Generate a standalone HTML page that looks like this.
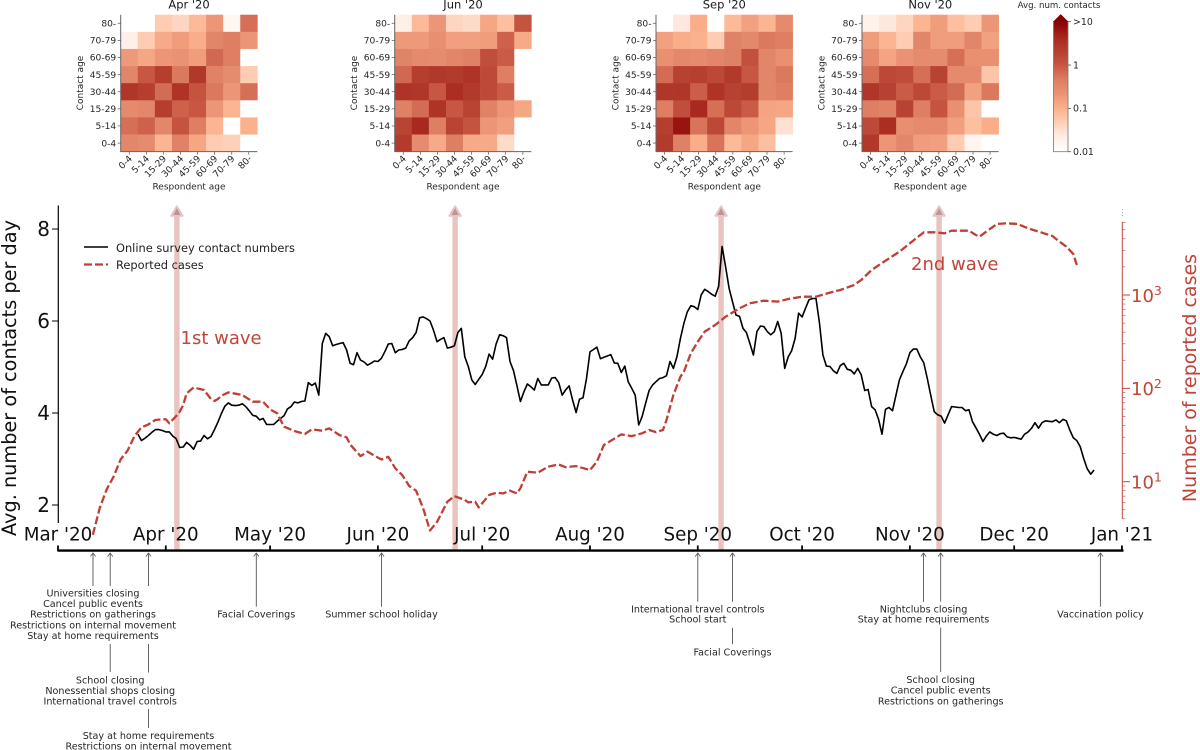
<!DOCTYPE html>
<html lang="en">
<head>
<meta charset="utf-8">
<title>Contacts and reported cases, 2020</title>
<style>
html,body{margin:0;padding:0;background:#fff;}
svg{display:block;font-family:"DejaVu Sans","Liberation Sans",sans-serif;}
.ann{font-size:9.6px;fill:#262626;text-anchor:middle;}
.ann-line{stroke:#555;stroke-width:.9;fill:none;}
.hm-tick{font-size:9.1px;fill:#262626;}
.hm-title{font-size:11.5px;fill:#1a1a1a;text-anchor:middle;}
.hm-label{font-size:9px;fill:#262626;text-anchor:middle;}
</style>
</head>
<body>
<svg id="chart" xmlns="http://www.w3.org/2000/svg" width="1200" height="750" viewBox="0 0 1200 750">
  <defs>
    <marker id="open-arrow" markerWidth="7" markerHeight="7" refX="0.5" refY="3" orient="auto" markerUnits="userSpaceOnUse">
      <path d="M4,0.4 L0.5,3 L4,5.6" fill="none" stroke="#555" stroke-width=".8"></path>
    </marker>
    <linearGradient id="cbar-gradient" x1="0" y1="1" x2="0" y2="0"></linearGradient>
  </defs>

  <g id="heatmaps"></g>

  <g>
    <text x="1059" y="8" font-size="8.6" fill="#262626" text-anchor="middle">Avg. num. contacts</text>
    <rect x="1053.5" y="21.7" width="14.5" height="130" fill="url(#cbar-gradient)" stroke="#777" stroke-width=".8"></rect>
    <path d="M1053.5,21.7 L1060.7,14.5 L1068,21.7 Z" fill="#860000" stroke="#860000" stroke-width=".6"></path>
    <g id="cbar-ticks"></g>
  </g>

  <g id="waves"></g>
  <g id="marks"></g>
  <g id="axes"></g>

  <text transform="translate(16,378) rotate(-90)" font-size="19.3" fill="#111" text-anchor="middle">Avg. number of contacts per day</text>
  <text transform="translate(1196,378) rotate(-90)" font-size="19" fill="#bf443a" text-anchor="middle">Number of reported cases</text>

  <g>
    <line x1="84" y1="247" x2="108" y2="247" stroke="#000" stroke-width="1.6"></line>
    <text x="116" y="252" font-size="11.4" fill="#222">Online survey contact numbers</text>
    <line x1="84" y1="264.5" x2="108" y2="264.5" stroke="#bf3f36" stroke-width="2.3" stroke-dasharray="8 3"></line>
    <text x="116" y="269" font-size="11.4" fill="#222">Reported cases</text>
  </g>

  <text x="180.5" y="344" font-size="18" fill="#c0453a">1st wave</text>
  <text x="911" y="270" font-size="18" fill="#c0453a">2nd wave</text>

  <g>
    <g>
      <line class="ann-line" x1="93" y1="553" x2="93" y2="586" marker-start="url(#open-arrow)"></line>
      <line class="ann-line" x1="110.2" y1="553" x2="110.2" y2="586" marker-start="url(#open-arrow)"></line>
      <line class="ann-line" x1="148.5" y1="553" x2="148.5" y2="586" marker-start="url(#open-arrow)"></line>
      <line class="ann-line" x1="110.2" y1="644" x2="110.2" y2="672"></line>
      <line class="ann-line" x1="148.5" y1="644" x2="148.5" y2="672.5"></line>
      <line class="ann-line" x1="148.5" y1="709" x2="148.5" y2="728"></line>
      <line class="ann-line" x1="256.3" y1="553" x2="256.3" y2="606.7" marker-start="url(#open-arrow)"></line>
      <line class="ann-line" x1="381.5" y1="553" x2="381.5" y2="606.7" marker-start="url(#open-arrow)"></line>
      <line class="ann-line" x1="697.8" y1="553" x2="697.8" y2="601.7" marker-start="url(#open-arrow)"></line>
      <line class="ann-line" x1="732.5" y1="553" x2="732.5" y2="601.7" marker-start="url(#open-arrow)"></line>
      <line class="ann-line" x1="732.5" y1="627.7" x2="732.5" y2="644.3"></line>
      <line class="ann-line" x1="923.5" y1="553" x2="923.5" y2="601.7" marker-start="url(#open-arrow)"></line>
      <line class="ann-line" x1="940.7" y1="553" x2="940.7" y2="601.7" marker-start="url(#open-arrow)"></line>
      <line class="ann-line" x1="940.7" y1="627.7" x2="940.7" y2="672"></line>
      <line class="ann-line" x1="1100.4" y1="553" x2="1100.4" y2="606.7" marker-start="url(#open-arrow)"></line>
    </g>
    <text class="ann" x="93" y="596.4">Universities closing</text>
    <text class="ann" x="93" y="607.1">Cancel public events</text>
    <text class="ann" x="93" y="617.7">Restrictions on gatherings</text>
    <text class="ann" x="93" y="628.4">Restrictions on internal movement</text>
    <text class="ann" x="93" y="639.1">Stay at home requirements</text>
    <text class="ann" x="110.2" y="683.4">School closing</text>
    <text class="ann" x="110.2" y="694.1">Nonessential shops closing</text>
    <text class="ann" x="110.2" y="704.4">International travel controls</text>
    <text class="ann" x="148.5" y="739.1">Stay at home requirements</text>
    <text class="ann" x="148.5" y="749.4">Restrictions on internal movement</text>
    <text class="ann" x="256.3" y="617.7">Facial Coverings</text>
    <text class="ann" x="381.5" y="617.7">Summer school holiday</text>
    <text class="ann" x="697.8" y="612.4">International travel controls</text>
    <text class="ann" x="697.8" y="622.7">School start</text>
    <text class="ann" x="732.5" y="655.7">Facial Coverings</text>
    <text class="ann" x="923.5" y="612.4">Nightclubs closing</text>
    <text class="ann" x="923.5" y="622.7">Stay at home requirements</text>
    <text class="ann" x="940.7" y="683.1">School closing</text>
    <text class="ann" x="940.7" y="693.7">Cancel public events</text>
    <text class="ann" x="940.7" y="704.4">Restrictions on gatherings</text>
    <text class="ann" x="1100.4" y="617.4">Vaccination policy</text>
  </g>
</svg>

<script>
// ---------- data ----------
const ageGroups = ['0-4','5-14','15-29','30-44','45-59','60-69','70-79','80-'];
const heatmapTitles = ["Apr '20","Jun '20","Sep '20","Nov '20"];
// rows run from the 80- contact age (top) down to 0-4 (bottom)
const contactsApr = [
 [.01,.01,.05,.04,.08,.2,.015,.6],
 [.02,.05,.12,.17,.11,.35,.45,.2],
 [.18,.13,.2,.22,.17,.7,.45,.01],
 [.35,1,2.2,.5,2.6,.4,.28,.05],
 [2.8,2.2,.65,3,1.1,.5,.2,.6],
 [.3,.33,2.2,.8,1,.2,.09,.01],
 [.6,.8,.33,1.1,.45,.09,.01,.1],
 [.33,.28,.09,.4,.13,.05,.045,.01]];
const contactsJun = [
 [.02,.08,.2,.04,.035,.13,.07,1.1],
 [.18,.18,.25,.16,.16,.17,.8,.12],
 [.38,.3,.28,.35,.42,1.3,.9,.01],
 [.7,2.2,2.6,2.4,3,1.5,.45,.01],
 [3,2.8,1,3.5,2.5,1.5,.9,.01],
 [.42,.65,3,1,1.8,.4,.2,.13],
 [1.8,4,.45,1.8,1.1,.2,.16,.01],
 [2.4,.28,.12,.45,.12,.12,.035,.01]];
const contactsSep = [
 [.01,.025,.11,.01,.08,.15,.09,.3],
 [.15,.11,.1,.05,.4,.32,.5,.45],
 [.24,.32,.3,.36,.42,1.2,.35,.24],
 [.65,2,2.1,1.6,2.5,1,.35,.5],
 [2.8,2.8,.85,3,2,2.3,.35,.45],
 [.45,1.3,4,.6,1.6,.9,.14,.13],
 [2.2,6.5,.55,1.6,.35,.2,.13,.03],
 [2.4,.42,.11,.55,.08,.13,.07,.01]];
const contactsNov = [
 [.018,.025,.04,.09,.17,.07,.05,.2],
 [.17,.09,.05,.35,.17,.17,.35,.15],
 [.3,.14,.22,.28,.28,.6,.24,.24],
 [.6,1.6,1.4,.6,1.9,.3,.3,.06],
 [2.8,2,.9,1.6,.9,.65,.15,.5],
 [.45,.4,1.9,.45,1.1,.24,.06,.01],
 [1.5,3.5,.25,.3,.3,.16,.07,.11],
 [2.6,.2,.33,.17,.16,.05,.015,.01]];
const colorbarValues = [0.01,0.1,1,10];
const colorbarLabels = ['0.01','0.1','1','>10'];

const monthLabels = ["Mar '20","Apr '20","May '20","Jun '20","Jul '20","Aug '20","Sep '20","Oct '20","Nov '20","Dec '20","Jan '21"];
const monthDays = [0,31,61,92,122,153,184,214,245,275,306];
const leftTicks = [2,4,6,8];
const rightTickExponents = [1,2,3];
const rightMinorTicks = [4,5,6,7,8,9,20,30,40,50,60,70,80,90,200,300,400,500,600,700,800,900,2000,3000,4000,5000,6000];
const waveDays = [34.2,114.2,190.7,253.4];

// daily online survey contacts, first value is contactStartDay days after 1 Mar
const contactStartDay = 23;
const contactValues = [
3.54,3.40,3.45,3.51,3.58,3.64,3.64,3.62,3.59,3.59,3.50,3.44,3.25,3.26,3.36,3.30,3.21,3.38,3.39,3.51,3.44,3.49,3.64,3.80,3.99,4.15,4.22,4.17,4.16,4.17,4.20,4.14,4.05,3.95,3.93,3.85,3.88,3.75,3.75,3.75,3.82,3.88,3.94,4.09,4.14,4.24,4.22,4.25,4.26,4.66,4.60,4.65,4.39,5.51,5.73,5.66,5.46,5.49,5.51,5.53,5.37,5.08,
5.05,5.31,5.15,5.11,5.04,5.08,5.13,5.12,5.19,5.33,5.50,5.51,5.31,5.37,5.38,5.41,5.57,5.64,5.75,6.07,6.09,6.05,6.00,5.80,5.55,5.60,5.64,5.41,5.43,5.46,5.75,5.84,5.22,5.01,4.72,4.62,4.73,4.84,5.01,5.28,5.17,5.50,5.70,5.68,5.64,5.12,4.92,4.59,4.25,4.46,4.63,4.57,4.50,4.75,4.61,4.61,4.61,4.76,4.77,4.66,4.39,4.50,4.59,4.28,4.01,4.30,4.33,4.75,5.33,5.38,5.43,5.18,5.21,5.24,5.27,5.09,5.08,4.88,5.02,4.68,4.54,4.39,3.74,
3.92,4.21,4.49,4.61,4.68,4.75,4.77,4.81,5.12,4.97,5.22,5.62,5.95,6.20,6.33,6.31,6.25,6.57,6.69,6.64,6.58,6.54,6.75,7.62,7.18,6.71,6.42,6.13,6.10,5.84,5.75,5.51,5.26,5.77,5.89,5.88,5.77,5.70,5.77,5.99,5.73,4.97,5.22,5.35,5.62,6.17,6.09,6.28,6.46,6.49,6.49,5.95,5.26,5.02,5.01,4.92,4.86,5.03,5.08,4.95,4.93,4.85,4.97,4.83,4.49,4.51,4.14,4.07,3.86,3.54,4.08,4.12,4.05,4.39,4.72,4.90,5.07,5.31,5.39,5.39,5.22,
5.09,4.75,4.39,4.03,3.96,3.93,3.78,3.96,4.14,4.13,4.12,4.12,4.05,4.07,3.81,3.68,3.54,3.38,3.50,3.59,3.54,3.51,3.55,3.56,3.48,3.46,3.47,3.45,3.43,3.54,3.59,3.67,3.79,3.67,3.79,3.83,3.82,3.81,3.85,3.79,3.86,3.83,3.63,3.46,3.40,3.27,3.01,2.79,2.67,2.76];

// reported cases per day (log axis)
const caseDays = [10,12,14,16,18,20,22,24,26,28,30,31,32,34,35,36,37,39,42,44,45,46,47,49,53,56,59,61,63,65,68,71,73,76,78,81,83,84,87,89,91,93,95,97,99,101,103,105,107,109,112,114,117,118,120,121,124,126,128,130,132,133,135,138,141,144,146,149,153,155,157,162,165,168,170,172,174,175,177,179,180,182,184,186,189,192,196,199,203,207,210,214,218,222,225,229,231,234,238,242,245,248,249,252,255,257,262,264,265,267,270,273,276,279,282,286,288,290,292,293];
const caseValues = [2.7,5.2,8.3,11.3,17.3,21.5,30.8,38.2,41.1,45.8,46.6,46.6,42.2,50.6,56.2,66.2,88.3,102,96,76.9,73.2,76.9,83.4,90.6,84.8,71.9,71.9,59.6,54,38.8,34.9,32.4,36.4,35.2,37.2,31.6,29.9,25.1,18.8,21,19,17.3,18.5,13.9,11.8,9,8,5.2,3.0,3.7,6.1,7,6.4,6,6.1,5.3,7.2,7.6,7.5,8,7.5,8.5,12.8,12.5,14.5,15.3,14.3,14.7,13.3,16.4,24.7,32.1,30.8,33,35.8,34,35.8,45.8,84.8,133,151,237,316,405,477,586,720,815,869,849,906,959,959,1060,1132,1279,1449,1853,2333,2913,3581,4397,4693,4693,4581,4887,4887,4397,4217,4775,5768,5861,5768,5180,4775,4285,3729,3296,2750,2094];

// ---------- scales ----------
const NS = 'http://www.w3.org/2000/svg';
const xScale = d => 58 + 3.477 * d;
const yLeft = v => 505 - (v - 2) * 46;
const yRight = v => 481.7 - (Math.log10(v) - 1) * 93.35;
const cbarY = v => 151.7 - (Math.log10(v) + 2) * 43.33;

const colorStops = [[0,'#ffffff'],[.12,'#feece3'],[.22,'#fdd0b8'],[.33,'#fbb28d'],[.45,'#ea9273'],[.55,'#de7f63'],[.67,'#c65542'],[.8,'#b23a2c'],[.9,'#a5201a'],[1,'#860000']];
function hexRgb(h){return [1,3,5].map(i=>parseInt(h.substr(i,2),16));}
function colorFor(v){
  let t = (Math.log10(v) + 2) / 3;
  t = Math.max(0, Math.min(1, t));
  for (let i = 1; i < colorStops.length; i++) {
    if (t <= colorStops[i][0]) {
      const a = colorStops[i-1], b = colorStops[i];
      const f = (t - a[0]) / (b[0] - a[0]);
      const ca = hexRgb(a[1]), cb = hexRgb(b[1]);
      return 'rgb(' + ca.map((c,k)=>Math.round(c + (cb[k]-c)*f)).join(',') + ')';
    }
  }
  return colorStops[colorStops.length-1][1];
}
function mk(parent, tag, attrs, name, text){
  const el = document.createElementNS(NS, tag);
  for (const k in attrs) el.setAttribute(k, attrs[k]);
  
  
  if (text !== undefined) el.textContent = text;
  parent.appendChild(el);
  return el;
}

// ---------- colorbar ----------
const grad = document.getElementById('cbar-gradient');
colorStops.forEach(s => {
  const st = document.createElementNS(NS, 'stop');
  st.setAttribute('offset', s[0]);
  st.setAttribute('stop-color', s[1]);
  grad.appendChild(st);
});
const cbarTicks = document.getElementById('cbar-ticks');
colorbarValues.forEach((v,i) => {
  mk(cbarTicks,'line',{x1:1068,x2:1071,y1:cbarY(v),y2:cbarY(v),stroke:'#555','stroke-width':.8},'colorbar-tick');
  mk(cbarTicks,'text',{x:1073,y:cbarY(v)+3.3,'font-size':9.4,fill:'#262626'},'colorbar-tick-label',colorbarLabels[i]);
});

// ---------- heatmaps ----------
const heatmapData = [contactsApr, contactsJun, contactsSep, contactsNov];
const panelLefts = [120.7, 394.7, 656, 862];
const cellW = 17.08, cellH = 17.12, panelTop = 14.7;
const hmRoot = document.getElementById('heatmaps');
heatmapData.forEach((matrix, p) => {
  const L = panelLefts[p];
  const g = mk(hmRoot,'g',{},'heatmap-panel');
  matrix.forEach((row, r) => row.forEach((v, c) => {
    mk(g,'rect',{x:L+c*cellW,y:panelTop+r*cellH,width:cellW+.3,height:cellH+.3,fill:colorFor(v)},'heatmap-cell');
  }));
  const bottom = panelTop + 8*cellH, right = L + 8*cellW;
  mk(g,'path',{d:`M${L},${panelTop} V${bottom} H${right}`,fill:'none',stroke:'#666','stroke-width':1},'heatmap-spines');
  ageGroups.forEach((a,i) => {
    const cx = L + (i+.5)*cellW;
    const cy = bottom - (i+.5)*cellH;
    mk(g,'line',{x1:L-3,x2:L,y1:cy,y2:cy,stroke:'#555','stroke-width':.7},'heatmap-y-tick');
    const yl = mk(g,'text',{x:L-4.5,y:cy+3.2,'text-anchor':'end'},'heatmap-y-tick-label',a);
    yl.setAttribute('class','hm-tick');
    mk(g,'line',{x1:cx,x2:cx,y1:bottom,y2:bottom+3,stroke:'#555','stroke-width':.7},'heatmap-x-tick');
    const xl = mk(g,'text',{transform:`translate(${cx+3.5},${bottom+7.5}) rotate(-45)`,'text-anchor':'end'},'heatmap-x-tick-label',a);
    xl.setAttribute('class','hm-tick');
  });
  const t = mk(g,'text',{x:L+4*cellW,y:8.5},'heatmap-title',heatmapTitles[p]);
  t.setAttribute('class','hm-title');
  const xt = mk(g,'text',{x:L+4*cellW,y:189.5},'heatmap-x-axis-title','Respondent age');
  xt.setAttribute('class','hm-label');
  const yt = mk(g,'text',{transform:`translate(${L-37.5},83) rotate(-90)`},'heatmap-y-axis-title','Contact age');
  yt.setAttribute('class','hm-label');
});

// ---------- wave highlights ----------
const wavesRoot = document.getElementById('waves');
waveDays.forEach(d => {
  const x = xScale(d);
  mk(wavesRoot,'rect',{x:x-2.7,y:213,width:5.4,height:337,fill:'#e9c3bf'},'wave-highlight-bar');
  mk(wavesRoot,'path',{d:`M${x-6},216 L${x},206 L${x+6},216 Z`,fill:'#e9c3bf',stroke:'#e9c3bf','stroke-width':1.5,'stroke-linejoin':'round'},'wave-highlight-arrow-head');
  mk(wavesRoot,'path',{d:`M${x-3.5},215 L${x},208 L${x+3.5},215 Z`,fill:'#b9959c'},'wave-highlight-arrow-core');
});

// ---------- series ----------
const marks = document.getElementById('marks');
const contactPoints = contactValues.map((v,i) => xScale(contactStartDay+i).toFixed(1)+','+yLeft(v).toFixed(1)).join(' ');
mk(marks,'polyline',{points:contactPoints,fill:'none',stroke:'#000','stroke-width':1.6,'stroke-linejoin':'round'},'contacts-line');
const casePoints = caseValues.map((v,i) => xScale(caseDays[i]).toFixed(1)+','+yRight(v).toFixed(1)).join(' ');
mk(marks,'polyline',{points:casePoints,fill:'none',stroke:'#bf3f36','stroke-width':2.3,'stroke-dasharray':'8 3','stroke-linejoin':'round'},'reported-cases-line');

// ---------- axes ----------
const axes = document.getElementById('axes');
mk(axes,'line',{x1:58.3,x2:58.3,y1:205.5,y2:523,stroke:'#000','stroke-width':1.2},'left-axis-spine');
leftTicks.forEach(v => {
  mk(axes,'line',{x1:52,x2:58.3,y1:yLeft(v),y2:yLeft(v),stroke:'#000','stroke-width':1},'left-axis-tick');
  mk(axes,'text',{x:50,y:yLeft(v)+7.2,'font-size':20,fill:'#111','text-anchor':'end'},'left-axis-tick-label',String(v));
});
mk(axes,'line',{x1:1122.3,x2:1122.3,y1:221.7,y2:519,stroke:'#c0453a','stroke-width':1},'right-axis-spine');
rightMinorTicks.forEach(v => {
  mk(axes,'line',{x1:1122.3,x2:1125.5,y1:yRight(v),y2:yRight(v),stroke:'#c0453a','stroke-width':.6},'right-axis-minor-tick');
});
rightTickExponents.forEach(e => {
  const y = yRight(Math.pow(10,e));
  mk(axes,'line',{x1:1122.3,x2:1130,y1:y,y2:y,stroke:'#c0453a','stroke-width':1},'right-axis-tick');
  const t = mk(axes,'text',{x:1131,y:y+6.8,'font-size':18,fill:'#c0453a'},'right-axis-tick-label','10');
  const sup = document.createElementNS(NS,'tspan');
  sup.setAttribute('font-size','12.6');
  sup.setAttribute('dy','-7');
  sup.textContent = String(e);
  t.appendChild(sup);
});
mk(axes,'path',{d:'M1122.5,209 v1 M1122.5,212 v1 M1122.5,215 v1',stroke:'#999','stroke-width':.8,fill:'none'},'right-axis-top-marks');
mk(axes,'line',{x1:57.5,x2:1123.5,y1:550.6,y2:550.6,stroke:'#000','stroke-width':2.4},'timeline-axis');
monthDays.forEach((d,i) => {
  const x = xScale(d);
  mk(axes,'line',{x1:x,x2:x,y1:545.5,y2:551,stroke:'#000','stroke-width':1.8},'timeline-tick');
  mk(axes,'text',{x:x,y:540.5,'font-size':18.3,fill:'#111','text-anchor':'middle'},'timeline-month-label',monthLabels[i]);
});
</script>
</body>
</html>
